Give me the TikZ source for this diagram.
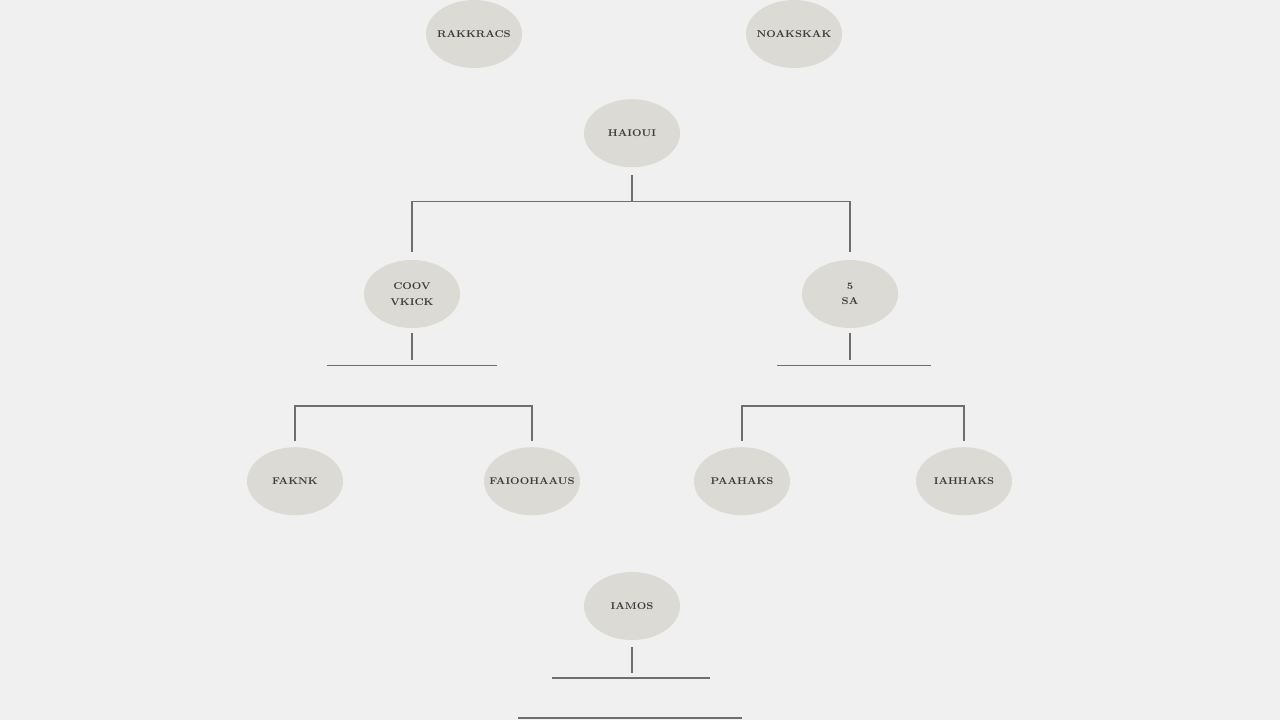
\documentclass[tikz,border=0pt]{standalone}
\usepackage{tikz}
\usetikzlibrary{shapes,positioning}

\definecolor{bgcol}{HTML}{F0F0F0}
\definecolor{blobcol}{HTML}{DBDAD5}
\definecolor{linecol}{HTML}{6E6E6E}
\definecolor{txtcol}{HTML}{3C3C3C}

\tikzset{
  blob/.style={ellipse, fill=blobcol, minimum width=2.4cm, minimum height=1.7cm,
    inner sep=0pt, align=center, text=txtcol,
    font=\fontsize{7}{11}\selectfont\bfseries},
  link/.style={draw=linecol, line width=1pt}
}

\begin{document}
\begin{tikzpicture}
  % canvas
  \fill[bgcol] (0,0) rectangle (32,-18);
  \useasboundingbox (0,0) rectangle (32,-18);

  % top nodes
  \node[blob] (rakk) at (11.85,-0.85) {\makebox[1.2cm]{RAKKRACS}};
  \node[blob] (noak) at (19.85,-0.85) {\makebox[1.2cm]{NOAKSKAK}};
  \node[blob] (hub) at (15.8,-3.33) {HAIOUI};

  % second row
  \node[blob] (coov) at (10.3,-7.35) {COOV\\VKICK};
  \node[blob] (five) at (21.25,-7.35) {5\\SA};

  % third row
  \foreach \nm/\x/\txt in {fakn/7.375/FAKNK, faio/13.3/FAIOOHAAUS,
                           paah/18.55/PAAHAKS, iahh/24.1/IAHHAKS} {
    \node[blob] (\nm) at (\x,-12.03) {\makebox[1.2cm]{\txt}};
  }

  % bottom node
  \node[blob] (iamo) at (15.8,-15.15) {IAMOS};

  % bars
  \coordinate (hubbar) at (15.8,-5.03);
  \coordinate (coovbar) at (10.3,-9.13);
  \coordinate (fivebar) at (21.25,-9.13);
  \coordinate (leftbar) at (10.3,-10.15);
  \coordinate (rightbar) at (21.25,-10.15);
  \coordinate (iamobar) at (15.8,-16.95);

  % hub tree
  \draw[link] ([yshift=-2mm]hub.south) -- (hubbar);
  \draw[link] ([yshift=2mm]coov.north) |- (hubbar) -| ([yshift=2mm]five.north);

  % stems under second row
  \draw[link] ([yshift=-1.25mm]coov.south) -- ([yshift=1.25mm]coovbar);
  \draw[link] (coovbar) ++(-2.125,0) -- ++(4.25,0);
  \draw[link] ([yshift=-1.25mm]five.south) -- ([yshift=1.25mm]fivebar);
  \draw[link] (fivebar) ++(-1.825,0) -- ++(3.85,0);

  % lower brackets
  \draw[link] ([yshift=1.5mm]fakn.north) |- (leftbar) -| ([yshift=1.5mm]faio.north);
  \draw[link] ([yshift=1.5mm]paah.north) |- (rightbar) -| ([yshift=1.5mm]iahh.north);

  % bottom stem and bars
  \draw[link] ([yshift=-1.75mm]iamo.south) -- ([yshift=1.25mm]iamobar);
  \draw[link] (iamobar) ++(-2,0) -- ++(3.95,0);
  \draw[link] (12.95,-17.95) -- (18.55,-17.95);
\end{tikzpicture}
\end{document}
